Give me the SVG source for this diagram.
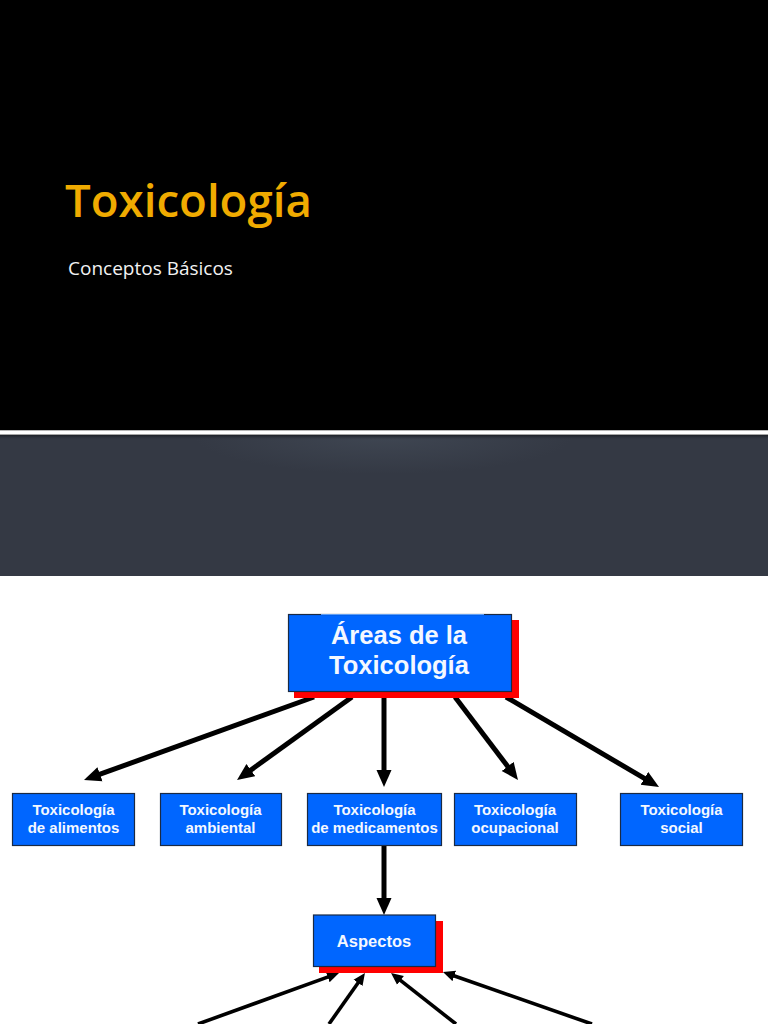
<svg xmlns="http://www.w3.org/2000/svg" width="768" height="1024" viewBox="0 0 768 1024">
<style>
.box{fill:#0066ff;stroke:#1a2a44;stroke-width:1.2}
.shadow{fill:#ff0000}
.t{font-family:"Liberation Sans",Arial,sans-serif;font-weight:700;fill:#f4f8ff;text-anchor:middle}
.s{font-size:15px}
.l{font-size:25.5px}
.c{stroke:#000;fill:none}
.c5{stroke-width:5;marker-end:url(#ah)}
.c3{stroke-width:3.6;marker-end:url(#as)}
</style>
<defs>
<marker id="ah" markerUnits="userSpaceOnUse" markerWidth="18" markerHeight="18" refX="2" refY="8" orient="auto"><path d="M0 0.500L17 8L0 15.500z" fill="#000"/></marker>
<marker id="as" markerUnits="userSpaceOnUse" markerWidth="14" markerHeight="14" refX="2" refY="6" orient="auto"><path d="M0 0.500L12 6L0 11.500z" fill="#000"/></marker>
<linearGradient id="band" x1="0" y1="0" x2="0" y2="1"><stop offset="0" stop-color="#888"/><stop offset=".25" stop-color="#fff"/><stop offset=".7" stop-color="#fff"/><stop offset="1" stop-color="#777"/></linearGradient>
<radialGradient id="glow" gradientUnits="userSpaceOnUse" cx="384" cy="436" r="190" gradientTransform="matrix(1 0 0 .2 0 348.8)"><stop offset="0" stop-color="#3f4652"/><stop offset="1" stop-color="#343944"/></radialGradient>
<linearGradient id="edge" x1="0" y1="0" x2="0" y2="1"><stop offset="0" stop-color="#1d2027"/><stop offset="1" stop-color="#343944" stop-opacity="0"/></linearGradient>
</defs>
<rect width="768" height="1024" fill="#fff"/>
<g id="slide-dark">
<rect width="768" height="431" fill="#000"/>
<rect y="430" width="768" height="5" fill="url(#band)"/>
<rect y="435" width="768" height="141" fill="#343944"/>
<rect y="435" width="768" height="45" fill="url(#glow)"/>
<rect y="435" width="768" height="5" fill="url(#edge)"/>
<text x="65" y="217" font-family="'Open Sans','Noto Sans',sans-serif" font-size="45.600" font-weight="600" fill="#f0ab00" id="title">Toxicología</text>
<text x="68" y="274.500" font-family="'Open Sans','Noto Sans',sans-serif" font-size="19" fill="#f2f2f2" id="subtitle">Conceptos Básicos</text>
</g>
<g id="connectors">
<path class="c c5" d="M314 697L98.100 774.900"/>
<path class="c c5" d="M352 697L249.200 771.200"/>
<path class="c c5" d="M384 692V772"/>
<path class="c c5" d="M455 697L508.900 768"/>
<path class="c c5" d="M506 697L646.100 779.400"/>
<path class="c c5" d="M384 846V900"/>
<path class="c c3" d="M198 1024L329.600 976.400"/>
<path class="c c3" d="M329 1024L359.200 981.200"/>
<path class="c c3" d="M456 1024L398.900 979.200"/>
<path class="c c3" d="M592 1024L452.400 975.300"/>
</g>
<g id="node-areas">
<rect class="shadow" x="294" y="620" width="225" height="78"/>
<rect class="box" x="288.500" y="614.500" width="223" height="77"/>
<path d="M321 614.500H484" stroke="#5f9ef5" stroke-width="1.200" fill="none"/>
<text class="t l" x="399" y="644">Áreas de la</text>
<text class="t l" x="399" y="674">Toxicología</text>
</g>
<g id="node-alimentos">
<rect class="box" x="12.500" y="793.500" width="122" height="52"/>
<text class="t s" x="73.500" y="815">Toxicología</text>
<text class="t s" x="73.500" y="833">de alimentos</text>
</g>
<g id="node-ambiental">
<rect class="box" x="160.500" y="793.500" width="121" height="52"/>
<text class="t s" x="220.500" y="815">Toxicología</text>
<text class="t s" x="220.500" y="833">ambiental</text>
</g>
<g id="node-medicamentos">
<rect class="box" x="307.500" y="793.500" width="134" height="52"/>
<text class="t s" x="374.500" y="815">Toxicología</text>
<text class="t s" x="374.500" y="833">de medicamentos</text>
</g>
<g id="node-ocupacional">
<rect class="box" x="454.500" y="793.500" width="122" height="52"/>
<text class="t s" x="515" y="815">Toxicología</text>
<text class="t s" x="515" y="833">ocupacional</text>
</g>
<g id="node-social">
<rect class="box" x="620.500" y="793.500" width="122" height="52"/>
<text class="t s" x="681.500" y="815">Toxicología</text>
<text class="t s" x="681.500" y="833">social</text>
</g>
<g id="node-aspectos">
<rect class="shadow" x="319" y="921" width="124" height="52"/>
<rect class="box" x="313.500" y="915" width="122" height="51.500"/>
<text class="t" font-size="16.500" x="374" y="946.500">Aspectos</text>
</g>
</svg>
